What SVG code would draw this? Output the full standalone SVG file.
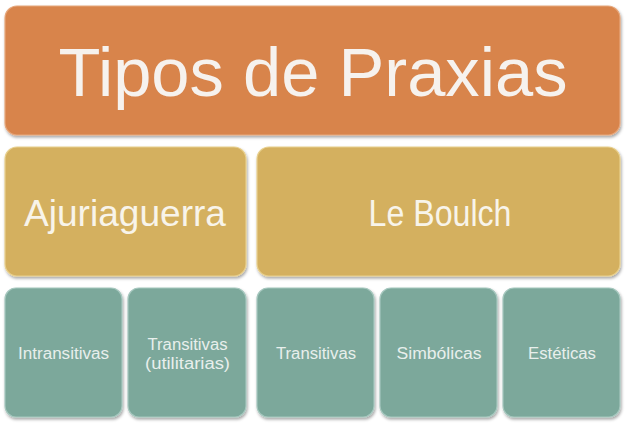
<svg xmlns="http://www.w3.org/2000/svg" width="627" height="424" viewBox="0 0 627 424">
  <style>
    .lbl { font-family: "Liberation Sans", "DejaVu Sans", Arial, sans-serif; text-anchor: middle; }
    .t1 { font-size: 68px; fill: #F6F2EE; }
    .t2 { font-size: 36px; fill: #F8F4EA; }
    .t3 { font-size: 16px; fill: #E8EFEC; }
    .orange { fill: #D8844C; stroke: #E6A77C; stroke-width: 1.2; }
    .yellow { fill: #D4B05F; stroke: #E8D08E; stroke-width: 1.2; }
    .teal { fill: #7BA89B; stroke: #A6C7BE; stroke-width: 1.2; }
  </style>
  <defs>
    <filter id="sh" x="-5%" y="-5%" width="110%" height="115%">
      <feDropShadow dx="1" dy="2" stdDeviation="1.4" flood-color="#000" flood-opacity="0.35"/>
    </filter>
  </defs>
  <rect width="627" height="424" fill="#FFFFFF"/>
  <g id="connectors"></g>
  <g id="n-title">
    <rect class="orange" x="5" y="6" width="615" height="129" rx="12" filter="url(#sh)"/>
    <text class="lbl t1" x="313" y="96" textLength="509" lengthAdjust="spacingAndGlyphs">Tipos de Praxias</text>
  </g>
  <g id="n-ajuriaguerra">
    <rect class="yellow" x="5" y="147" width="241" height="129" rx="12" filter="url(#sh)"/>
    <text class="lbl t2" x="125" y="226" textLength="202" lengthAdjust="spacingAndGlyphs">Ajuriaguerra</text>
  </g>
  <g id="n-leboulch">
    <rect class="yellow" x="257" y="147" width="363" height="129" rx="12" filter="url(#sh)"/>
    <text class="lbl t2" x="440" y="226" textLength="143" lengthAdjust="spacingAndGlyphs">Le Boulch</text>
  </g>
  <g id="n-intransitivas">
    <rect class="teal" x="5" y="288" width="117" height="129" rx="11" filter="url(#sh)"/>
    <text class="lbl t3" x="63.5" y="359" textLength="91" lengthAdjust="spacingAndGlyphs">Intransitivas</text>
  </g>
  <g id="n-transitivas-util">
    <rect class="teal" x="128" y="288" width="118" height="129" rx="11" filter="url(#sh)"/>
    <text class="lbl t3" x="187.5" y="350" textLength="80" lengthAdjust="spacingAndGlyphs">Transitivas</text>
    <text class="lbl t3" x="187.5" y="369" textLength="85" lengthAdjust="spacingAndGlyphs">(utilitarias)</text>
  </g>
  <g id="n-transitivas">
    <rect class="teal" x="257" y="288" width="117" height="129" rx="11" filter="url(#sh)"/>
    <text class="lbl t3" x="316" y="359" textLength="80" lengthAdjust="spacingAndGlyphs">Transitivas</text>
  </g>
  <g id="n-simbolicas">
    <rect class="teal" x="380" y="288" width="117" height="129" rx="11" filter="url(#sh)"/>
    <text class="lbl t3" x="439" y="359" textLength="85" lengthAdjust="spacingAndGlyphs">Simbólicas</text>
  </g>
  <g id="n-esteticas">
    <rect class="teal" x="503" y="288" width="117" height="129" rx="11" filter="url(#sh)"/>
    <text class="lbl t3" x="562" y="359" textLength="68" lengthAdjust="spacingAndGlyphs">Estéticas</text>
  </g>
</svg>
